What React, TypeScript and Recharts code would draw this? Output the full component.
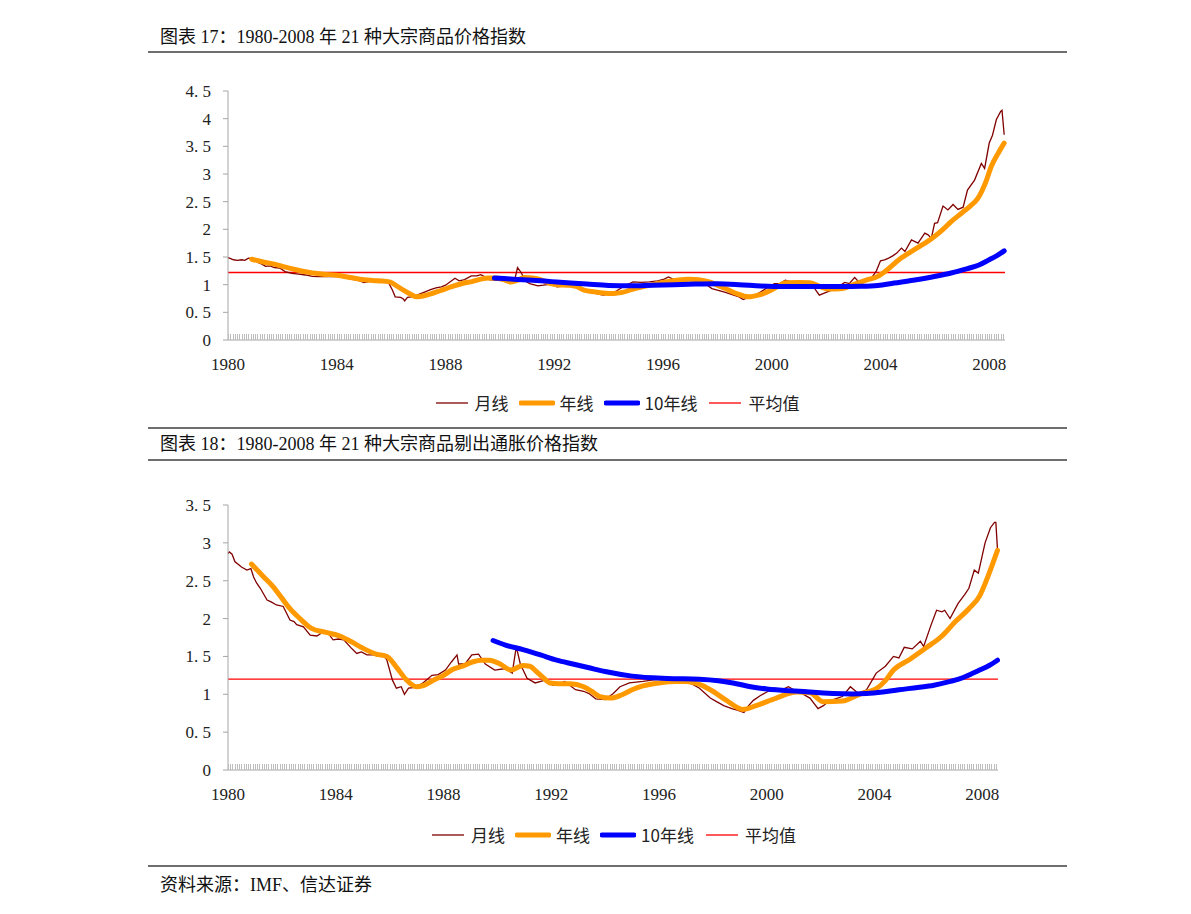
import { LineChart, Line, XAxis, YAxis } from 'recharts';

// year labels shown under the category axis, month ticks in between
const yearLabels = [1980, 1984, 1988, 1992, 1996, 2000, 2004, 2008];
const xEnd = 2008.58;
const monthTicks = Array.from({ length: 343 }, (_, i) => 1980 + i / 12);

const yTicks1 = [0, 0.5, 1, 1.5, 2, 2.5, 3, 3.5, 4, 4.5];
const yTicks2 = [0, 0.5, 1, 1.5, 2, 2.5, 3, 3.5];

const avg1 = 1.22;
const avg2 = 1.2;

// 图表17: [year, value]
const monthly1: [number, number][] = [
  [1980.0, 1.49], [1980.1, 1.47], [1980.2, 1.45], [1980.35, 1.44], [1980.5, 1.45], [1980.62, 1.44], [1980.75, 1.48], [1980.9, 1.47],
  [1981.1, 1.4], [1981.25, 1.37], [1981.38, 1.33], [1981.55, 1.34], [1981.7, 1.31], [1981.9, 1.3], [1982.1, 1.235], [1982.35, 1.205],
  [1982.6, 1.19], [1982.85, 1.175], [1983.1, 1.15], [1983.35, 1.145], [1983.6, 1.15], [1983.85, 1.145], [1984.1, 1.15], [1984.3, 1.13],
  [1984.5, 1.1], [1984.7, 1.085], [1984.85, 1.07], [1985.0, 1.04], [1985.3, 1.07], [1985.5, 1.06], [1985.7, 1.05], [1985.9, 1.04],
  [1986.05, 0.9], [1986.15, 0.78], [1986.35, 0.77], [1986.45, 0.74], [1986.5, 0.705], [1986.6, 0.77], [1986.75, 0.78], [1986.95, 0.81],
  [1987.25, 0.87], [1987.45, 0.91], [1987.65, 0.94], [1987.85, 0.96], [1988.0, 0.99], [1988.2, 1.06], [1988.35, 1.115], [1988.5, 1.07],
  [1988.7, 1.09], [1988.95, 1.16], [1989.15, 1.16], [1989.3, 1.18], [1989.45, 1.14], [1989.6, 1.09], [1989.9, 1.08], [1990.2, 1.07],
  [1990.45, 1.03], [1990.55, 1.1], [1990.65, 1.31], [1990.78, 1.22], [1990.95, 1.06], [1991.1, 1.02], [1991.4, 0.98], [1991.6, 0.99],
  [1991.9, 1.01], [1992.1, 0.96], [1992.4, 0.98], [1992.7, 0.97], [1993.0, 0.92], [1993.3, 0.88], [1993.55, 0.84], [1993.8, 0.81],
  [1994.1, 0.84], [1994.3, 0.89], [1994.6, 0.98], [1994.9, 1.05], [1995.2, 1.04], [1995.5, 1.05], [1995.8, 1.07], [1996.05, 1.1],
  [1996.2, 1.14], [1996.4, 1.09], [1996.6, 1.08], [1996.9, 1.08], [1997.2, 1.09], [1997.45, 1.06], [1997.65, 0.98], [1997.8, 0.93],
  [1998.0, 0.9], [1998.3, 0.86], [1998.6, 0.81], [1998.8, 0.78], [1998.95, 0.73], [1999.1, 0.76], [1999.35, 0.8], [1999.6, 0.87],
  [1999.85, 0.95], [2000.1, 1.02], [2000.3, 1.02], [2000.5, 1.08], [2000.65, 1.06], [2000.8, 1.05], [2001.05, 1.03], [2001.3, 1.02],
  [2001.55, 0.95], [2001.75, 0.81], [2002.0, 0.86], [2002.3, 0.92], [2002.5, 0.98], [2002.68, 1.04], [2002.85, 1.02], [2003.05, 1.13],
  [2003.24, 1.03], [2003.45, 1.08], [2003.66, 1.115], [2003.85, 1.25], [2004.0, 1.43], [2004.15, 1.45], [2004.3, 1.48], [2004.45, 1.52],
  [2004.6, 1.57], [2004.77, 1.66], [2004.9, 1.6], [2005.14, 1.81], [2005.38, 1.75], [2005.63, 1.93], [2005.75, 1.9], [2005.87, 1.84],
  [2005.99, 2.11], [2006.1, 2.12], [2006.3, 2.42], [2006.48, 2.35], [2006.67, 2.45], [2006.85, 2.36], [2007.04, 2.4], [2007.2, 2.71],
  [2007.46, 2.89], [2007.71, 3.19], [2007.83, 3.1], [2008.0, 3.56], [2008.12, 3.7], [2008.26, 3.98], [2008.42, 4.13], [2008.47, 4.15],
  [2008.55, 3.71],
];
const annual1: [number, number][] = [
  [1980.87, 1.46], [1981.3, 1.41], [1981.7, 1.37], [1982.0, 1.33], [1982.5, 1.27], [1983.0, 1.22], [1983.5, 1.19], [1984.0, 1.17],
  [1984.5, 1.13], [1985.0, 1.09], [1985.5, 1.07], [1985.95, 1.05], [1986.2, 0.98], [1986.45, 0.9], [1986.7, 0.83], [1986.95, 0.78],
  [1987.3, 0.81], [1987.8, 0.89], [1988.2, 0.96], [1988.65, 1.025], [1989.0, 1.06], [1989.3, 1.1], [1989.6, 1.12], [1989.9, 1.12],
  [1990.2, 1.08], [1990.4, 1.05], [1990.65, 1.08], [1990.9, 1.13], [1991.2, 1.12], [1991.5, 1.09], [1991.8, 1.03], [1992.1, 1.0],
  [1992.5, 0.99], [1992.8, 0.97], [1993.1, 0.9], [1993.5, 0.87], [1993.8, 0.85], [1994.2, 0.84], [1994.5, 0.86], [1994.9, 0.92],
  [1995.5, 0.99], [1996.1, 1.05], [1996.5, 1.08], [1996.95, 1.1], [1997.3, 1.09], [1997.7, 1.05], [1998.0, 0.99], [1998.3, 0.93],
  [1998.7, 0.84], [1999.15, 0.78], [1999.5, 0.81], [1999.8, 0.86], [2000.2, 0.96], [2000.5, 1.035], [2001.0, 1.04], [2001.4, 1.035],
  [2001.8, 0.96], [2002.1, 0.92], [2002.6, 0.93], [2003.0, 1.0], [2003.5, 1.085], [2003.9, 1.15], [2004.2, 1.25], [2004.7, 1.46],
  [2005.3, 1.65], [2005.9, 1.84], [2006.3, 2.0], [2006.6, 2.14], [2007.0, 2.3], [2007.3, 2.42], [2007.58, 2.56], [2007.9, 2.89],
  [2008.07, 3.13], [2008.3, 3.35], [2008.55, 3.56],
];
const tenYear1: [number, number][] = [
  [1989.8, 1.12], [1990.5, 1.1], [1991.2, 1.08], [1991.9, 1.055], [1992.6, 1.03], [1993.2, 1.01], [1994.0, 0.985], [1994.8, 0.98],
  [1995.6, 0.99], [1996.4, 1.0], [1997.2, 1.01], [1998.0, 1.015], [1998.8, 1.0], [1999.6, 0.975], [2000.5, 0.965], [2001.5, 0.965],
  [2002.5, 0.965], [2003.3, 0.97], [2003.9, 0.985], [2004.5, 1.03], [2005.2, 1.08], [2005.9, 1.14], [2006.6, 1.21], [2007.2, 1.29],
  [2007.6, 1.35], [2008.0, 1.45], [2008.3, 1.53], [2008.55, 1.61],
];

// 图表18
const monthly2: [number, number][] = [
  [1980.0, 2.86], [1980.05, 2.88], [1980.15, 2.85], [1980.26, 2.75], [1980.4, 2.71], [1980.5, 2.68], [1980.7, 2.64], [1980.85, 2.66],
  [1980.95, 2.55], [1981.06, 2.47], [1981.2, 2.4], [1981.45, 2.245], [1981.6, 2.22], [1981.8, 2.18], [1982.05, 2.16], [1982.3, 1.98],
  [1982.45, 1.96], [1982.55, 1.92], [1982.8, 1.89], [1983.05, 1.78], [1983.3, 1.77], [1983.55, 1.83], [1983.75, 1.79], [1983.9, 1.72],
  [1984.1, 1.73], [1984.3, 1.72], [1984.55, 1.62], [1984.78, 1.54], [1984.95, 1.56], [1985.16, 1.52], [1985.4, 1.52], [1985.6, 1.5],
  [1985.8, 1.5], [1985.9, 1.45], [1986.1, 1.19], [1986.25, 1.08], [1986.43, 1.1], [1986.55, 1.0], [1986.7, 1.08], [1986.95, 1.09],
  [1987.2, 1.14], [1987.4, 1.2], [1987.57, 1.25], [1987.8, 1.26], [1988.07, 1.32], [1988.3, 1.43], [1988.5, 1.52], [1988.56, 1.4],
  [1988.8, 1.4], [1989.05, 1.52], [1989.3, 1.53], [1989.55, 1.4], [1989.9, 1.32], [1990.3, 1.34], [1990.55, 1.28], [1990.7, 1.63],
  [1990.85, 1.4], [1991.1, 1.21], [1991.4, 1.15], [1991.8, 1.19], [1992.05, 1.12], [1992.3, 1.14], [1992.5, 1.17], [1992.9, 1.06],
  [1993.2, 1.04], [1993.4, 1.01], [1993.65, 0.94], [1994.0, 0.93], [1994.3, 1.01], [1994.55, 1.1], [1994.9, 1.15], [1995.4, 1.17],
  [1995.8, 1.19], [1996.3, 1.21], [1996.6, 1.19], [1997.0, 1.17], [1997.25, 1.13], [1997.5, 1.08], [1997.9, 0.95], [1998.15, 0.9],
  [1998.4, 0.85], [1998.7, 0.81], [1998.9, 0.79], [1999.15, 0.76], [1999.3, 0.84], [1999.5, 0.92], [1999.75, 0.98], [2000.0, 1.03],
  [2000.3, 1.08], [2000.55, 1.06], [2000.8, 1.1], [2001.05, 1.05], [2001.3, 1.01], [2001.6, 0.95], [2001.9, 0.81], [2002.1, 0.85],
  [2002.3, 0.91], [2002.55, 0.94], [2002.8, 0.97], [2003.1, 1.1], [2003.4, 1.01], [2003.7, 1.06], [2003.9, 1.18], [2004.06, 1.28],
  [2004.4, 1.37], [2004.7, 1.5], [2004.9, 1.48], [2005.1, 1.62], [2005.4, 1.6], [2005.7, 1.7], [2005.82, 1.63], [2006.1, 1.92],
  [2006.3, 2.11], [2006.5, 2.09], [2006.6, 2.11], [2006.8, 2.0], [2007.1, 2.2], [2007.35, 2.32], [2007.5, 2.4], [2007.7, 2.64],
  [2007.85, 2.6], [2008.1, 3.0], [2008.3, 3.2], [2008.45, 3.27], [2008.5, 3.27], [2008.56, 2.92],
];
const annual2: [number, number][] = [
  [1980.87, 2.72], [1981.3, 2.56], [1981.68, 2.42], [1982.0, 2.27], [1982.3, 2.13], [1982.7, 1.99], [1983.1, 1.87], [1983.6, 1.82],
  [1984.15, 1.77], [1984.6, 1.69], [1985.0, 1.61], [1985.5, 1.53], [1985.9, 1.5], [1986.25, 1.36], [1986.6, 1.2], [1987.0, 1.1],
  [1987.3, 1.12], [1987.6, 1.18], [1988.0, 1.25], [1988.35, 1.33], [1988.7, 1.37], [1989.1, 1.43], [1989.4, 1.45], [1989.7, 1.45],
  [1990.1, 1.4], [1990.5, 1.32], [1990.95, 1.38], [1991.2, 1.37], [1991.45, 1.3], [1991.7, 1.22], [1991.95, 1.15], [1992.3, 1.14],
  [1992.7, 1.14], [1993.2, 1.1], [1993.5, 1.04], [1993.8, 0.97], [1994.2, 0.95], [1994.6, 0.99], [1995.0, 1.06], [1995.4, 1.11],
  [1996.0, 1.15], [1996.6, 1.17], [1997.0, 1.17], [1997.5, 1.13], [1997.9, 1.06], [1998.5, 0.92], [1999.1, 0.8], [1999.6, 0.85],
  [2000.35, 0.95], [2001.1, 1.03], [2001.6, 1.02], [2002.1, 0.9], [2002.8, 0.91], [2003.5, 1.01], [2004.05, 1.07], [2004.4, 1.18],
  [2004.7, 1.32], [2005.3, 1.46], [2005.9, 1.61], [2006.5, 1.77], [2007.0, 1.96], [2007.5, 2.13], [2007.9, 2.3], [2008.2, 2.55],
  [2008.56, 2.9],
];
const tenYear2: [number, number][] = [
  [1989.84, 1.71], [1990.3, 1.65], [1990.95, 1.59], [1991.6, 1.52], [1992.2, 1.45], [1992.8, 1.4], [1993.4, 1.35], [1994.0, 1.3],
  [1995.0, 1.24], [1996.3, 1.21], [1997.5, 1.2], [1998.2, 1.18], [1998.74, 1.15], [1999.4, 1.1], [2000.0, 1.07], [2001.2, 1.04],
  [2002.45, 1.01], [2003.2, 1.005], [2003.7, 1.01], [2004.3, 1.03], [2004.9, 1.06], [2005.6, 1.09], [2006.2, 1.12], [2006.7, 1.16],
  [2007.2, 1.21], [2007.6, 1.27], [2007.9, 1.32], [2008.25, 1.38], [2008.56, 1.45],
];

const seriesNames = ['月线', '年线', '10年线', '平均值'];
const colors = ['#800000', '#FF9900', '#0000FF', '#FF0000'];
const widths = [1.3, 5, 5, 1.3];

const serif = '"Liberation Serif", "Noto Sans CJK SC", serif';
const toRows = (arr: [number, number][]) => arr.map(([t, v]) => ({ t, v }));

function MonthTick(props: any) {
  const { x, y, payload } = props;
  const val = payload.value;
  const yr = yearLabels.find((l) => Math.abs(l - val) < 0.001);
  const px = Math.round(x) + 0.5;
  return (
    <g>
      <line x1={px} x2={px} y1={y} y2={y - 6} stroke="#bdbdbd" strokeWidth={1} />
      {yr !== undefined && (
        <text x={x} y={y + 30} textAnchor="middle" fontSize={17} fontFamily={serif} fill="#222">
          {yr}
        </text>
      )}
    </g>
  );
}

const fmtY = (v: number) => (Number.isInteger(v) ? String(v) : v.toFixed(1).replace('.', '. '));

function IndexChart({ width, height, yMax, yTicks, avg, monthly, annual, tenYear }: any) {
  const avgRows = [{ t: 1980, v: avg }, { t: xEnd, v: avg }];
  return (
    <LineChart width={width} height={height} margin={{ top: 20, right: 20, bottom: 0, left: 20 }}>
      <XAxis
        type="number"
        dataKey="t"
        domain={[1980, xEnd]}
        ticks={monthTicks}
        interval={0}
        tick={(p: any) => <MonthTick {...p} />}
        tickLine={false}
        tickSize={0}
        tickMargin={0}
        height={40}
        axisLine={{ stroke: '#a6a6a6' }}
      />
      <YAxis
        type="number"
        domain={[0, yMax]}
        ticks={yTicks}
        interval={0}
        width={60}
        tickSize={5}
        tickMargin={12}
        tickFormatter={fmtY}
        tick={{ fontSize: 17, fontFamily: serif, fill: '#222' }}
        tickLine={{ stroke: '#a6a6a6' }}
        axisLine={{ stroke: '#a6a6a6' }}
      />
      <Line data={avgRows} dataKey="v" type="linear" stroke={colors[3]} strokeWidth={widths[3]} dot={false} activeDot={false} isAnimationActive={false} />
      <Line data={toRows(monthly)} dataKey="v" type="linear" stroke={colors[0]} strokeWidth={widths[0]} dot={false} activeDot={false} isAnimationActive={false} />
      <Line data={toRows(annual)} dataKey="v" type="monotone" stroke={colors[1]} strokeWidth={widths[1]} strokeLinecap="round" dot={false} activeDot={false} isAnimationActive={false} />
      <Line data={toRows(tenYear)} dataKey="v" type="monotone" stroke={colors[2]} strokeWidth={widths[2]} strokeLinecap="round" dot={false} activeDot={false} isAnimationActive={false} />
    </LineChart>
  );
}

function LegendRow({ left, top, width }: { left: number; top: number; width: number }) {
  return (
    <div
      style={{
        position: 'absolute', left, top, width, height: 20, display: 'flex', justifyContent: 'center',
        alignItems: 'center', fontFamily: '"Noto Sans CJK SC", sans-serif', fontSize: 17, color: '#222',
      }}
    >
      {seriesNames.map((n, i) => (
        <div key={n} style={{ display: 'flex', alignItems: 'center', marginRight: i < 3 ? 10 : 0 }}>
          <svg width={36} height={10} style={{ marginRight: 5 }}>
            <line x1={2} x2={34} y1={5} y2={5} stroke={colors[i]} strokeWidth={widths[i] > 2 ? 5 : 1.3} strokeLinecap={widths[i] > 2 ? 'round' : 'butt'} />
          </svg>
          <span style={{ lineHeight: '20px' }}>{n}</span>
        </div>
      ))}
    </div>
  );
}

const rule = (top: number) => (
  <div style={{ position: 'absolute', left: 140, top, width: 919, height: 2, background: '#6e6e6e' }} />
);

const textStyle: any = {
  position: 'absolute', left: 152, fontSize: 18, lineHeight: '20px', color: '#111',
  fontFamily: '"Liberation Serif", "Noto Sans CJK SC", serif', whiteSpace: 'nowrap',
};

export default function App() {
  return (
    <div style={{ position: 'relative', width: 1175, height: 898, background: '#fff' }}>
      <div style={{ ...textStyle, top: 19 }}>图表 17：1980-2008 年 21 种大宗商品价格指数</div>
      {rule(43)}
      <div style={{ position: 'absolute', left: 140, top: 63 }}>
        <IndexChart width={877} height={309} yMax={4.5} yTicks={yTicks1} avg={avg1}
          monthly={monthly1} annual={annual1} tenYear={tenYear1} />
      </div>
      <LegendRow left={220} top={385} width={777} />
      {rule(419)}
      <div style={{ ...textStyle, top: 426 }}>图表 18：1980-2008 年 21 种大宗商品剔出通胀价格指数</div>
      {rule(451)}
      <div style={{ position: 'absolute', left: 140, top: 477 }}>
        <IndexChart width={870} height={325} yMax={3.5} yTicks={yTicks2} avg={avg2}
          monthly={monthly2} annual={annual2} tenYear={tenYear2} />
      </div>
      <LegendRow left={220} top={817} width={770} />
      {rule(857)}
      <div style={{ ...textStyle, top: 867 }}>资料来源：IMF、信达证券</div>
    </div>
  );
}
